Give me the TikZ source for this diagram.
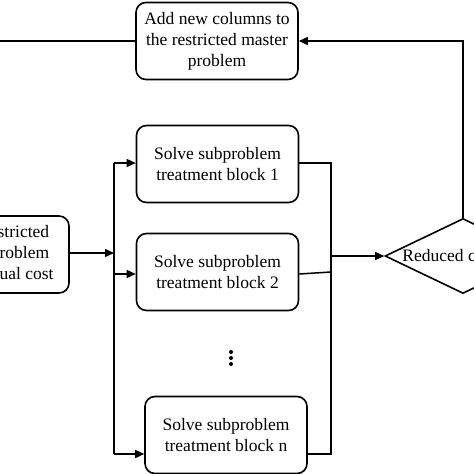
\documentclass[tikz,border=0pt]{standalone}
\usepackage{fontspec}
\setmainfont{Liberation Serif}
\usetikzlibrary{shapes.geometric,arrows.meta}
\begin{document}
\begin{tikzpicture}[x=1pt,y=-1pt,
  box/.style={draw,line width=1.6pt,rounded corners=10pt,minimum width=162pt,minimum height=77pt,align=center,inner sep=0pt,font=\fontsize{17.5}{21}\selectfont},
  dec/.style={draw,diamond,line width=1.6pt,minimum width=156pt,minimum height=75pt,aspect=2.08,inner sep=0pt,font=\fontsize{17.5}{21}\selectfont},
  conn/.style={line width=1.5pt},
  arr/.style={conn,-{Triangle[length=9pt,width=8pt]}}]
\useasboundingbox (0,0) rectangle (474,474);
\clip (0,0) rectangle (474,474);
\fill[white] (0,0) rectangle (474,474);
\node[box] (top) at (217,41) {Add new columns to\\the restricted master\\problem};
\node[box] (b1) at (217.5,164) {Solve subproblem\\treatment block 1};
\node[box] (b2) at (217.5,272) {Solve subproblem\\treatment block 2};
\node[box] (bn) at (226,435) {Solve subproblem\\treatment block n};
\node[box,minimum width=149pt] (rmp) at (-5.5,254.5) {Solve restricted\\master problem\\and get dual cost};
\node[dec] (red) at (463,256) {Reduced cost < 0};
\foreach \yy in {352,358,364} \fill (231,\yy) circle (2pt);
\coordinate (lb1) at (114,163);
\coordinate (lb2) at (114,253);
\coordinate (lbn) at (114,454);
\coordinate (rb1) at (331,163);
\coordinate (rb2) at (331,272);
\coordinate (rbm) at (331,256);
\coordinate (rbn) at (331,454);
\coordinate (tr) at (463,41);
\coordinate (tl) at (0,41);
\draw[arr] (rmp.east |- lb2) -- (lb2);
\draw[conn] (lb1) -- (lbn);
\draw[arr] (lb1) -- (b1.west |- lb1);
\draw[arr] (lb1 |- 0,274) -- (b2.west |- 0,274);
\draw[arr] (lbn) -- (bn.west |- lbn);
\draw[conn] (b1.east |- rb1) -- (rb1) -- (rbn) -- (bn.east |- rbn);
\draw[conn] (b2.east |- 0,274) -- (rb2);
\draw[arr] (rbm) -- (red.west);
\draw[arr] (red.north) -- (tr) -- (top.east);
\draw[conn] (top.west) -- (tl);
\end{tikzpicture}
\end{document}
